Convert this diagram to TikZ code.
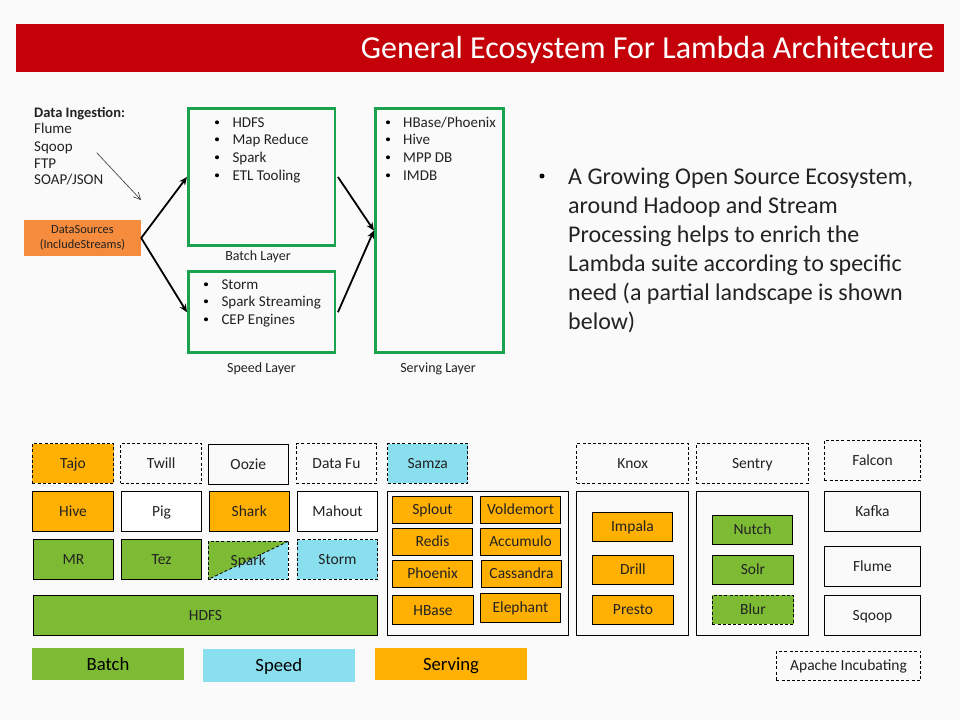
\documentclass[tikz,border=0pt]{standalone}
\usepackage{fontspec}
\setmainfont{Carlito}
\definecolor{pagebg}{HTML}{FAFAFA}
\definecolor{titlered}{HTML}{C40008}
\definecolor{layergreen}{HTML}{1BA24F}
\definecolor{srcorange}{HTML}{F58B3D}
\definecolor{servc}{HTML}{FFB000}
\definecolor{batchc}{HTML}{7DBB35}
\definecolor{speedc}{HTML}{8ADFEF}
\definecolor{inktext}{HTML}{222222}
\usetikzlibrary{arrows.meta}
\tikzset{
 x=1pt,y=-1pt,
 tool/.style={draw=black,line width=0.8pt,text=inktext,font=\fontsize{15.5}{17}\selectfont,inner sep=0pt,anchor=center,text height=12.5pt,text depth=2.5pt},
 incub/.style={tool,dashed,dash pattern=on 3pt off 2.2pt},
 layerbox/.style={draw=layergreen,line width=2.8pt,inner sep=0pt},
 flow/.style={-{Stealth[length=8pt,width=7pt]},line width=1.8pt,black},
 small/.style={text=inktext,font=\fontsize{15}{17}\selectfont,anchor=west,inner sep=0pt,text height=12.5pt,text depth=2.5pt},
 layerlabel/.style={small,anchor=center,font=\fontsize{14}{17}\selectfont},
 dotb/.style={circle,fill=black,inner sep=0pt,minimum size=4pt},
 legend/.style={text=black,font=\fontsize{18.7}{22}\selectfont,inner sep=0pt,text height=14pt,text depth=2pt},
 bigtext/.style={text=inktext,font=\fontsize{24}{28}\selectfont,anchor=west,inner sep=0pt,text height=18pt,text depth=2pt},
}
\newcommand{\tl}[7]{% style fill x1 y1 x2 y2 text
 \node[#1,fill=#2,minimum width={(#5)-(#3)},minimum height={(#6)-(#4)}] at ({((#3)+(#5))/2},{((#4)+(#6))/2}) {#7};}
\begin{document}
\begin{tikzpicture}
\useasboundingbox (0,0) rectangle (960,720);
\fill[pagebg] (0,0) rectangle (960,720);
% title
\fill[titlered] (16,24) rectangle (944,72);
\node[anchor=east,text=white,font=\fontsize{32}{36}\selectfont,inner sep=0pt,text height=24pt,text depth=4pt] (title) at (934,48.5) {General Ecosystem For Lambda Architecture};
% top diagram
\node[fill=srcorange,minimum width=117pt,minimum height=35.4pt,inner sep=0pt,text=inktext,font=\fontsize{12.4}{15}\selectfont,align=center] (ds) at (82.5,238) {\raisebox{-1pt}{DataSources}\\\raisebox{-1pt}{(IncludeStreams)}};
\node[layerbox,minimum width=146.7pt,minimum height=137.4pt] (batch) at (261.7,177) {};
\node[layerbox,minimum width=146.7pt,minimum height=81pt] (speed) at (261.7,312.2) {};
\node[layerbox,minimum width=128.4pt,minimum height=244.4pt] (serving) at (439.5,230.5) {};
\draw[flow] (ds.east) -- (batch.west);
\draw[flow] (ds.east) -- (speed.west);
\draw[flow] ([xshift=1.5pt]batch.east) -- (serving.west);
\draw[flow] ([xshift=1.5pt]speed.east) -- (serving.west);
\node[small,font=\fontsize{14.5}{17}\selectfont\bfseries] (di) at (34,112) {Data Ingestion:};
\node[small] (d1) at (34,128.5) {Flume};
\node[small] (d2) at (34,146) {Sqoop};
\node[small] (d3) at (34,163) {FTP};
\node[small] (d4) at (34,179) {SOAP/JSON};
\coordinate (ia) at (96.7,152.7);
\coordinate (ib) at (141,200);
\draw[-{Straight Barb[length=7pt,width=7pt]},line width=0.6pt,black!80] (ia) -- (ib);
\foreach \n/\t/\y in {a/HDFS/122.3,b/Map Reduce/139.3,c/Spark/157.3,d/ETL Tooling/175.3}{
 \node[dotb] (bd\n) at (217,\y) {}; \node[small] (bt\n) at (232.3,\y) {\t};}
\foreach \n/\t/\y in {a/Storm/284.3,b/Spark Streaming/301.3,c/CEP Engines/319.3}{
 \node[dotb] (sd\n) at (206,\y) {}; \node[small] (st\n) at (221.3,\y) {\t};}
\foreach \n/\t/\y in {a/HBase\slash Phoenix/122.3,b/Hive/139.3,c/MPP DB/157.3,d/IMDB/175.3}{
 \node[dotb] (vd\n) at (388,\y) {}; \node[small] (vt\n) at (403,\y) {\t};}
\node[layerlabel] (lb) at (258,255.5) {Batch Layer};
\node[layerlabel] (ls) at (261.5,367.5) {Speed Layer};
\node[layerlabel] (lv) at (438,367.5) {Serving Layer};
% right text
\node[dotb,minimum size=5pt] (rd) at (542,176) {};
\node[bigtext] (r1) at (568,176) {A Growing Open Source Ecosystem,};
\node[bigtext] (r2) at (568,205) {around Hadoop and Stream};
\node[bigtext] (r3) at (568,234) {Processing helps to enrich the};
\node[bigtext] (r4) at (568,263) {Lambda suite according to specific};
\node[bigtext] (r5) at (568,292) {need (a partial landscape is shown};
\node[bigtext] (r6) at (568,321) {below)};
% containers
\draw[line width=0.8pt,fill=pagebg] (387.7,491.3) rectangle (568.7,635.3);
\draw[line width=0.8pt,fill=pagebg] (576.7,491.3) rectangle (688.7,635.3);
\draw[line width=0.8pt,fill=pagebg] (696.3,491.3) rectangle (808.3,635.3);
% row 1
\tl{incub}{servc}{32.3}{443.7}{113.7}{483.3}{Tajo}
\tl{incub}{pagebg}{120.7}{443.7}{201.7}{483.3}{Twill}
\tl{tool}{pagebg}{208.3}{444.3}{288.3}{484.3}{Oozie}
\tl{incub}{pagebg}{296.3}{443.7}{376.7}{483.3}{Data Fu}
\tl{incub}{speedc}{387.7}{443.7}{467.7}{483.3}{Samza}
\tl{incub}{pagebg}{576.7}{443.7}{688.7}{483.3}{Knox}
\tl{incub}{pagebg}{696.3}{443.7}{808.3}{483.3}{Sentry}
\tl{incub}{pagebg}{824.3}{440.3}{920.7}{480.7}{Falcon}
% row 2
\tl{tool}{servc}{32.3}{491.3}{113.7}{531.3}{Hive}
\tl{tool}{white}{121.3}{491.3}{201.7}{531.3}{Pig}
\tl{tool}{servc}{209.3}{491.3}{289.3}{531.3}{Shark}
\tl{tool}{white}{297.3}{491.3}{377.7}{531.3}{Mahout}
% row 3
\tl{tool}{batchc}{33.3}{539.7}{113.7}{579.3}{MR}
\tl{tool}{batchc}{121.3}{539.7}{201.7}{579.3}{Tez}
\fill[speedc] (208.3,541.3) rectangle (288.3,579.3);
\fill[batchc] (208.3,541.3) -- (288.3,541.3) -- (208.3,579.3) -- cycle;
\draw[dashed,dash pattern=on 3pt off 2.2pt,line width=0.8pt] (288.3,541.3) -- (208.3,579.3);
\node[incub,minimum width=80pt,minimum height=38pt] (spark) at (248.3,560.3) {Spark};
\tl{incub}{speedc}{297.3}{539.7}{377.7}{579.3}{Storm}
\tl{tool}{batchc}{33.3}{595.3}{377.7}{635.3}{HDFS}
% serving stack
\tl{tool}{servc}{392.3}{496.3}{472.7}{523.3}{Splout}
\tl{tool}{servc}{392.3}{528.3}{472.7}{555.3}{Redis}
\tl{tool}{servc}{392.3}{560.3}{472.7}{587.3}{Phoenix}
\tl{tool}{servc}{392.3}{595.7}{473.7}{624.3}{HBase}
\tl{tool}{servc}{480.3}{496.3}{560.7}{523.3}{Voldemort}
\tl{tool}{servc}{480.3}{528.3}{560.7}{555.3}{Accumulo}
\tl{tool}{servc}{481.3}{560.3}{561.7}{587.3}{Cassandra}
\tl{tool}{servc}{480.3}{593.3}{560.7}{622.3}{Elephant}
% query
\tl{tool}{servc}{592.3}{512.3}{672.7}{541.3}{Impala}
\tl{tool}{servc}{592.3}{555.3}{673.7}{584.3}{Drill}
\tl{tool}{servc}{592.3}{595.3}{673.7}{624.3}{Presto}
% search
\tl{tool}{batchc}{712.3}{515.3}{792.7}{544.3}{Nutch}
\tl{tool}{batchc}{712.3}{555.3}{793.7}{584.3}{Solr}
\tl{incub}{batchc}{712.3}{595.3}{793.7}{624.3}{Blur}
% ingestion
\tl{tool}{pagebg}{824.3}{491.3}{920.7}{531.3}{Kafka}
\tl{tool}{pagebg}{824.3}{546.3}{920.7}{586.3}{Flume}
\tl{tool}{pagebg}{824.3}{595.3}{920.7}{635.3}{Sqoop}
\tl{incub}{pagebg}{776.3}{651.3}{920.7}{680.3}{Apache Incubating}
% legend
\tl{legend}{batchc}{32}{648.3}{184}{680}{Batch}
\tl{legend}{speedc}{203}{649}{354.7}{681.7}{Speed}
\tl{legend}{servc}{375}{648.3}{527}{680}{Serving}
\end{tikzpicture}
\end{document}
